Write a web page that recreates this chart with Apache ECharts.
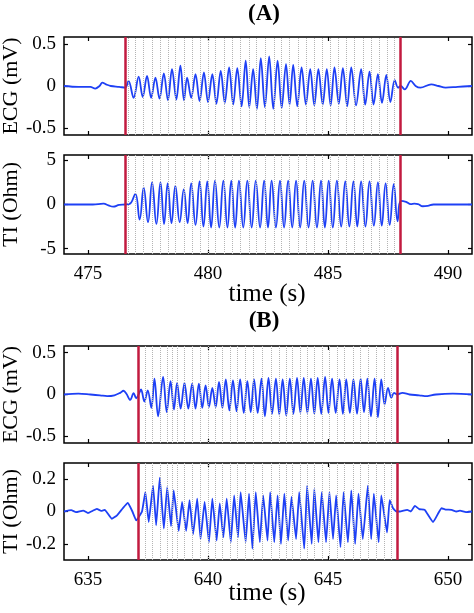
<!DOCTYPE html>
<html>
<head>
<meta charset="utf-8">
<script src="https://cdn.jsdelivr.net/npm/echarts@6/dist/echarts.min.js"></script>
<style>
html, body { margin: 0; padding: 0; background: #fff; }
#chart { width: 474px; height: 613px; }
</style>
</head>
<body>
<div id="chart"></div>
<script>
// signals: [time (s), value]
var ecgA = [
    [474.0,0],[474.6,-0.01],[475.1,-0.01],[475.3,-0.03],[475.48,0],[475.6,0.04],[475.75,0.02],[475.95,0],[476.3,-0.01],[476.55,-0.02],
    [476.69,0.06],[476.90,-0.14],[477.11,0.11],[477.28,-0.13],[477.46,0.12],[477.63,-0.14],[477.81,0.10],[477.98,-0.15],
    [478.16,0.15],[478.33,-0.17],[478.50,0.20],[478.68,-0.16],[478.85,0.24],[479.00,-0.17],[479.13,0.10],[479.30,-0.14],
    [479.48,0.14],[479.65,-0.18],[479.83,0.16],[480.00,-0.19],[480.18,0.14],[480.35,-0.21],[480.53,0.18],[480.70,-0.20],
    [480.88,0.22],[481.05,-0.22],[481.22,0.21],[481.40,-0.24],[481.57,0.30],[481.72,-0.25],[481.88,0.20],[482.04,-0.27],
    [482.20,0.33],[482.37,-0.25],[482.55,0.35],[482.72,-0.27],[482.90,0.30],[483.07,-0.26],[483.25,0.26],[483.40,-0.22],
    [483.55,0.25],[483.72,-0.24],[483.90,0.22],[484.08,-0.22],[484.26,0.20],[484.43,-0.23],[484.60,0.20],[484.78,-0.22],
    [484.95,0.20],[485.11,-0.23],[485.27,0.22],[485.45,-0.21],[485.62,0.21],[485.80,-0.24],[485.97,0.22],[486.17,-0.23],
    [486.38,0.20],[486.55,-0.22],[486.73,0.17],[486.90,-0.22],[487.08,0.14],[487.25,-0.20],[487.43,0.13],[487.60,-0.19],
    [487.78,0.07],[487.92,-0.02],
    [488.03,0],[488.2,-0.04],[488.45,0.06],[488.65,0],[488.85,-0.02],[489.3,0.02],[489.6,0],[489.9,-0.02],[490.4,-0.01],[491,0]
];
var tiA = [
    [474,0],[475.2,0],[475.65,0.1],[475.85,-0.1],[476.05,-0.25],[476.3,-0.05],[476.55,0],[476.75,0.1],
    [476.97,1.2],[477.15,-1.7],[477.32,1.9],[477.50,-2.0],[477.67,2.5],[477.85,-2.2],[478.02,2.5],[478.17,-2.2],
    [478.32,2.4],[478.48,-2.1],[478.64,2.1],[478.82,-2.0],[478.99,1.7],[479.15,-2.1],[479.30,2.4],[479.48,-2.3],
    [479.65,2.6],[479.81,-2.5],[479.97,2.6],[480.13,-2.6],[480.29,2.7],[480.47,-2.6],[480.64,2.7],[480.81,-2.6],
    [480.97,2.7],[481.13,-2.6],[481.29,2.7],[481.47,-2.6],[481.64,2.7],[481.82,-2.6],[481.99,2.7],[482.17,-2.6],
    [482.34,2.7],[482.50,-2.6],[482.65,2.7],[482.83,-2.6],[483.00,2.7],[483.17,-2.6],[483.34,2.7],[483.51,-2.6],
    [483.67,2.7],[483.84,-2.6],[484.01,2.7],[484.19,-2.6],[484.36,2.7],[484.54,-2.6],[484.71,2.7],[484.87,-2.6],
    [485.03,2.7],[485.20,-2.6],[485.37,2.7],[485.55,-2.5],[485.72,2.6],[485.89,-2.5],[486.06,2.6],[486.22,-2.5],
    [486.38,2.6],[486.56,-2.5],[486.73,2.6],[486.91,-2.4],[487.08,2.5],[487.24,-2.4],[487.40,2.4],[487.57,-2.3],
    [487.74,2.3],[487.90,-1.9],
    [488.03,0.4],[488.25,0.3],[488.45,0.05],[488.6,0.1],[488.75,0.05],[488.95,-0.2],[489.15,-0.15],[489.4,0],[490,0],[491,0]
];
var ecgB = [
    [634,0],[634.6,0.01],[635.1,0],[635.5,-0.01],[635.8,-0.02],[636.1,-0.01],[636.34,0.02],[636.48,0.045],[636.6,0.01],
    [636.76,-0.065],[636.9,0.016],[637.01,-0.045],[637.11,0],[637.21,0.06],[637.35,-0.085],[637.49,0.05],[637.64,-0.16],
    [637.77,0.19],[637.92,-0.26],[638.13,0.21],[638.28,-0.21],[638.44,0.16],[638.58,-0.18],[638.71,0.14],[638.86,-0.17],
    [639.02,0.14],[639.18,-0.17],[639.34,0.13],[639.48,-0.17],[639.62,0.13],[639.76,-0.16],[639.90,0.11],[640.04,-0.15],
    [640.18,0.08],[640.32,-0.15],[640.46,0.15],[640.60,-0.16],[640.74,0.18],[640.89,-0.19],[641.04,0.17],[641.19,-0.20],
    [641.34,0.18],[641.49,-0.22],[641.64,0.16],[641.78,-0.21],[641.92,0.18],[642.07,-0.22],[642.23,0.19],[642.37,-0.26],
    [642.52,0.20],[642.67,-0.23],[642.83,0.19],[642.97,-0.24],[643.11,0.18],[643.26,-0.25],[643.41,0.19],[643.56,-0.23],
    [643.71,0.20],[643.85,-0.22],[643.99,0.20],[644.14,-0.22],[644.29,0.19],[644.43,-0.23],[644.57,0.20],[644.72,-0.23],
    [644.88,0.21],[645.02,-0.22],[645.17,0.19],[645.32,-0.22],[645.48,0.18],[645.62,-0.23],[645.76,0.18],[645.91,-0.22],
    [646.06,0.18],[646.21,-0.23],[646.36,0.19],[646.50,-0.21],[646.64,0.19],[646.79,-0.26],[646.94,0.19],[647.08,-0.27],
    [647.22,0.18],[647.36,-0.12],[647.50,0.08],[647.64,-0.04],[647.75,0.02],[647.88,0],
    [648.1,0.02],[648.4,0],[648.8,-0.01],[649.03,-0.02],[649.5,0],[650.2,0.01],[651,0]
];
var tiB = [
    [634,0],[634.3,0.008],[634.5,-0.004],[634.8,0.006],[635,-0.01],[635.2,0.005],[635.37,0.016],[635.55,0.004],[635.7,0.01],
    [635.99,-0.045],[636.2,-0.025],[636.45,0.02],[636.66,0.053],[636.85,0],[637.01,-0.055],[637.25,0],
    [637.39,0.12],[637.53,-0.065],[637.71,0.16],[637.84,-0.085],[637.99,0.21],[638.16,-0.105],[638.30,0.15],[638.46,-0.09],
    [638.57,0.13],[638.78,-0.12],[638.92,0.06],[639.09,-0.12],[639.23,0.07],[639.38,-0.14],[639.55,0.08],[639.69,-0.17],
    [639.86,0.06],[640.04,-0.19],[640.18,0.08],[640.36,-0.18],[640.49,0.05],[640.64,-0.16],[640.78,0.08],[640.95,-0.19],
    [641.09,0.10],[641.25,-0.16],[641.36,0.12],[641.57,-0.19],[641.71,0.11],[641.85,-0.23],[641.99,0.12],[642.16,-0.19],
    [642.30,0.10],[642.48,-0.18],[642.59,0.12],[642.76,-0.19],[642.90,0.10],[643.04,-0.20],[643.18,0.11],[643.34,-0.18],
    [643.48,0.09],[643.67,-0.17],[643.80,0.12],[644.01,-0.23],[644.13,0.16],[644.32,-0.20],[644.43,0.14],[644.60,-0.19],
    [644.74,0.12],[644.92,-0.19],[645.06,0.12],[645.21,-0.17],[645.34,0.10],[645.52,-0.22],[645.65,0.12],[645.83,-0.19],
    [645.97,0.13],[646.13,-0.20],[646.27,0.11],[646.45,-0.17],[646.66,0.16],[646.80,-0.17],[646.91,0.11],[647.11,-0.19],
    [647.22,0.10],[647.46,-0.13],[647.57,0.07],[647.71,0.02],[647.85,0],
    [648.0,0],[648.15,0.006],[648.3,0.01],[648.45,0.0],[648.62,0.035],[648.8,0.015],[649.03,0.01],[649.38,-0.065],
    [649.73,0.02],[649.9,0.012],[650.15,0.01],[650.35,0.0],[650.5,0.005],[650.75,-0.004],[651,0]
];

// onset / offset markers and the dotted beat markers
var redA = [476.55, 488.03];
var redB = [637.1, 647.88];
var dotsA = [476.69,476.97,477.32,477.67,477.99,478.34,478.64,478.99,479.34,479.66,479.99,480.32,480.67,481.02,481.36,
    481.71,482.03,482.39,482.76,483.07,483.38,483.74,484.08,484.41,484.75,485.09,485.41,485.76,486.10,486.46,486.80,
    487.15,487.47,487.78];
var dotsB = [637.39,637.67,637.99,638.30,638.50,638.72,638.99,639.34,639.66,639.99,640.32,640.60,640.92,641.23,641.57,
    641.90,642.24,642.62,642.97,643.25,643.53,643.85,644.15,644.43,644.78,645.06,645.38,645.69,646.04,646.36,646.67,
    647.01,647.33,647.64];

var xRangeA = [474, 491];
var xRangeB = [634, 651];
var xTicksA = [475, 480, 485, 490];
var xTicksB = [635, 640, 645, 650];
var ecgRange = [-0.58, 0.58];
var ecgTicks = [-0.5, 0, 0.5];
var tiRangeA = [-5.6, 5.6];
var tiTicksA = [-5, 0, 5];
var tiRangeB = [-0.3, 0.3];
var tiTicksB = [-0.2, 0, 0.2];

var FONT = 'Liberation Serif';
var BLUE = '#1e40f5';
var RED = '#c21a3f';

var panels = [
    {top: 37, height: 98, xr: xRangeA, xt: xTicksA, yr: ecgRange, yt: ecgTicks, data: ecgA, smooth: 0.35, dots: dotsA, red: redA, xlab: false, name: 'ECG (mV)'},
    {top: 155, height: 99, xr: xRangeA, xt: xTicksA, yr: tiRangeA, yt: tiTicksA, data: tiA, smooth: 0.45, dots: dotsA, red: redA, xlab: true, name: 'TI (Ohm)'},
    {top: 346, height: 97, xr: xRangeB, xt: xTicksB, yr: ecgRange, yt: ecgTicks, data: ecgB, smooth: 0.35, dots: dotsB, red: redB, xlab: false, name: 'ECG (mV)'},
    {top: 463, height: 97, xr: xRangeB, xt: xTicksB, yr: tiRangeB, yt: tiTicksB, data: tiB, smooth: 0.12, dots: dotsB, red: redB, xlab: true, name: 'TI (Ohm)'}
];

var grid = [], xAxis = [], yAxis = [], series = [], graphic = [];

panels.forEach(function (p, i) {
    grid.push({left: 64, width: 408, top: p.top, height: p.height, show: true,
        borderColor: '#000', borderWidth: 1.5, backgroundColor: 'transparent'});
    ['bottom', 'top'].forEach(function (pos) {
        xAxis.push({
            type: 'value', gridIndex: i, position: pos, min: p.xr[0], max: p.xr[1],
            axisLine: {show: false, onZero: false}, splitLine: {show: false},
            axisTick: {show: true, inside: true, length: 4, customValues: p.xt, lineStyle: {color: '#000', width: 1.2}},
            axisLabel: {show: pos === 'bottom' && p.xlab, customValues: p.xt, margin: 11,
                fontFamily: FONT, fontSize: 19, color: '#000'}
        });
    });
    ['left', 'right'].forEach(function (pos) {
        yAxis.push({
            type: 'value', gridIndex: i, position: pos, min: p.yr[0], max: p.yr[1],
            axisLine: {show: false, onZero: false}, splitLine: {show: false},
            axisTick: {show: true, inside: true, length: 4, customValues: p.yt, lineStyle: {color: '#000', width: 1.2}},
            axisLabel: {show: pos === 'left', customValues: p.yt, margin: 8,
                fontFamily: FONT, fontSize: 19, color: '#000'}
        });
    });
    var xi = i * 2, yi = i * 2;
    series.push({
        type: 'line', xAxisIndex: xi, yAxisIndex: yi, data: [], z: 1, silent: true,
        markLine: {silent: true, symbol: 'none', label: {show: false}, animation: false,
            lineStyle: {type: 'dotted', color: '#b4b4b4', width: 1},
            data: p.dots.map(function (t) { return {xAxis: t}; })}
    });
    series.push({
        type: 'line', xAxisIndex: xi, yAxisIndex: yi, data: p.data, z: 2,
        showSymbol: false, smooth: p.smooth, animation: false,
        lineStyle: {color: BLUE, width: 1.8}
    });
    series.push({
        type: 'line', xAxisIndex: xi, yAxisIndex: yi, data: [], z: 3, silent: true,
        markLine: {silent: true, symbol: 'none', label: {show: false}, animation: false,
            lineStyle: {type: 'solid', color: RED, width: 2.5},
            data: p.red.map(function (t) { return {xAxis: t}; })}
    });
    graphic.push({
        type: 'text', x: 11, y: p.top + p.height / 2, rotation: Math.PI / 2,
        style: {text: p.name, fontFamily: FONT, fontSize: 22, fill: '#000',
            textAlign: 'center', textVerticalAlign: 'middle'}
    });
});

graphic.push({type: 'text', x: 264, y: 14, style: {text: '(A)', fontFamily: FONT, fontSize: 23, fontWeight: 'bold',
    fill: '#000', textAlign: 'center', textVerticalAlign: 'middle'}});
graphic.push({type: 'text', x: 264, y: 321, style: {text: '(B)', fontFamily: FONT, fontSize: 23, fontWeight: 'bold',
    fill: '#000', textAlign: 'center', textVerticalAlign: 'middle'}});
graphic.push({type: 'text', x: 267, y: 294, style: {text: 'time (s)', fontFamily: FONT, fontSize: 25,
    fill: '#000', textAlign: 'center', textVerticalAlign: 'middle'}});
graphic.push({type: 'text', x: 267, y: 593, style: {text: 'time (s)', fontFamily: FONT, fontSize: 25,
    fill: '#000', textAlign: 'center', textVerticalAlign: 'middle'}});

var myChart = echarts.init(document.getElementById('chart'), null, {renderer: 'canvas'});
myChart.setOption({
    animation: false,
    backgroundColor: '#fff',
    grid: grid,
    xAxis: xAxis,
    yAxis: yAxis,
    series: series,
    graphic: graphic
});
</script>
</body>
</html>
